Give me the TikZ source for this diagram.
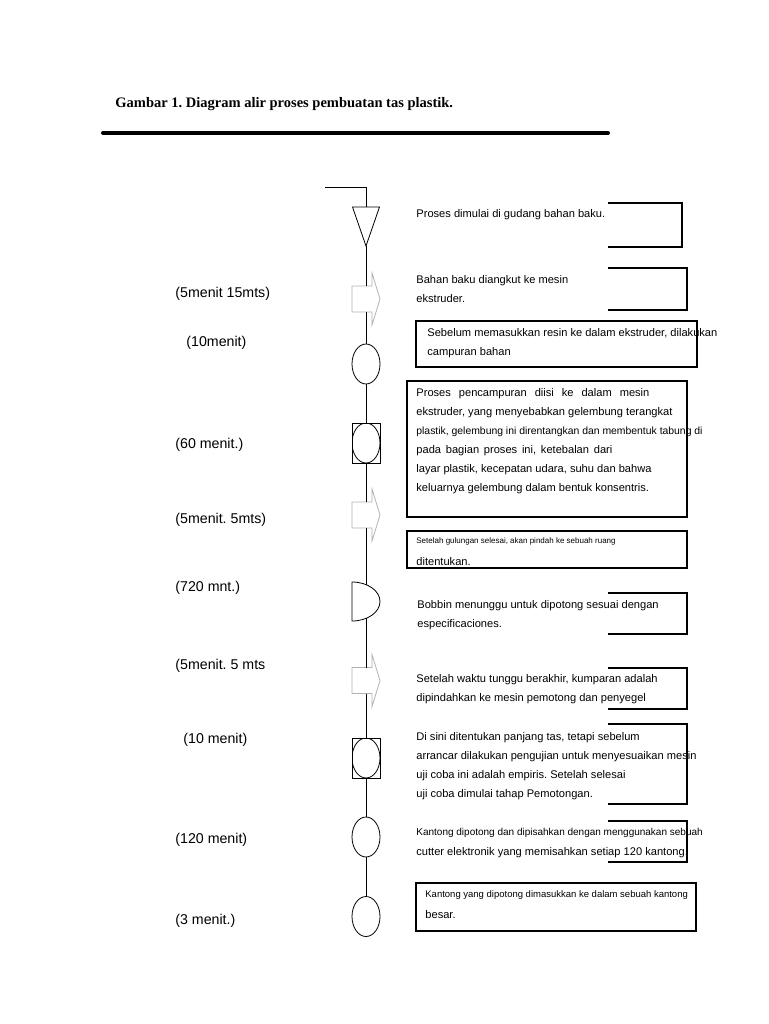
\documentclass[tikz,border=0pt]{standalone}
\usepackage{fontspec}
\setmainfont{Liberation Serif}
\setsansfont{Liberation Sans}
\usetikzlibrary{shapes.geometric}
\frenchspacing
\begin{document}
\begin{tikzpicture}[x=1pt, y=-1pt, line width=0.8pt,
		flow/.pic = {
				\filldraw[fill=white, draw=gray!60] (-14,-13) -- (6,-13) -- (6,-26)
				-- (14,0) -- (6,26) -- (6,13) -- (-14,13) -- cycle;
				\coordinate (-in) at (0,-13);
				\coordinate (-out) at (0,13);
			},
		store/.pic = {
				\filldraw[fill=white] (-13.5,-19.5) -- (13.5,-19.5) -- (0,19.5) -- cycle;
				\coordinate (-in) at (0,-19.5);
				\coordinate (-out) at (0,19.5);
			},
		delay/.pic = {
				\filldraw[fill=white] (-14,-19.5) .. controls (1.5,-19.5) and (14,-10.8) .. (14,0)
				.. controls (14,10.8) and (1.5,19.5) .. (-14,19.5) -- cycle;
				\coordinate (-in) at (0,-16.9);
				\coordinate (-out) at (0,16.9);
			},
		oper/.style = {ellipse, draw, fill=white, inner sep=0pt,
				minimum width=28pt, minimum height=40pt},
		inspect/.style = {rectangle, draw, fill=white, inner sep=0pt,
				minimum width=28pt, minimum height=40pt,
				path picture={\draw (path picture bounding box.center)
						ellipse[x radius=14pt, y radius=20pt];}},
		time/.style = {anchor=base west, inner sep=0pt,
				font=\sffamily\fontsize{14.2}{17}\selectfont},
		note/.style = {anchor=base west, inner sep=0pt, align=left,
				font=\sffamily\fontsize{11.1}{19}\selectfont},
		frame/.style = {line width=1.3pt}
	]
	\useasboundingbox (0,0) rectangle (768,1024);

	\node[anchor=base west, inner sep=0pt,
		font=\bfseries\fontsize{14.5}{17}\selectfont] (title) at (115,108)
	{Gambar 1. Diagram alir proses pembuatan tas plastik.};
	\draw[line width=4pt, line cap=round] (103,133) -- (608,133);

	% symbols
	\pic (st) at (366,226.5) {store};
	\pic (f1) at (366,299) {flow};
	\node[oper] (op1) at (366,364) {};
	\node[inspect] (in1) at (366,443) {};
	\pic (f2) at (366,515) {flow};
	\pic (dl) at (366,601.5) {delay};
	\pic (f3) at (366,680.5) {flow};
	\node[inspect] (in2) at (366,758) {};
	\node[oper] (op2) at (366,837) {};
	\node[oper] (op3) at (366,916.5) {};

	\coordinate (start) at (325,187);
	\draw (start) -| (st-in);
	\draw (st-out) -- (f1-in);
	\draw (f1-out) -- (op1);
	\draw (op1) -- (in1);
	\draw (in1) -- (f2-in);
	\draw (f2-out) -- (dl-in);
	\draw (dl-out) -- (f3-in);
	\draw (f3-out) -- (in2);
	\draw (in2) -- (op2);
	\draw (op2) -- (op3);

	% times
	\node[time] (t1) at (175,297) {(5menit 15mts)};
	\node[time] (t2) at (186,346) {(10menit)};
	\node[time] (t3) at (175,448) {(60 menit.)};
	\node[time] (t4) at (175,523) {(5menit. 5mts)};
	\node[time] (t5) at (175,591) {(720 mnt.)};
	\node[time] (t6) at (175,669) {(5menit. 5 mts};
	\node[time] (t7) at (183,743) {(10 menit)};
	\node[time] (t8) at (175,843) {(120 menit)};
	\node[time] (t9) at (175,924) {(3 menit.)};

	% frames
	\draw[frame] (608,203) -| (682,247) -- (608,247);
	\draw[frame] (608,268) -| (687,310) -- (608,310);
	\draw[frame] (416,321) rectangle (697,367);
	\draw[frame] (407,381) rectangle (687,517);
	\draw[frame] (407,531) rectangle (687,568);
	\draw[frame] (608,593) -| (687,634) -- (608,634);
	\draw[frame] (608,668) -| (687,709) -- (608,709);
	\draw[frame] (608,724) -| (687,804) -- (608,804);
	\draw[frame] (608,821) -| (687,862) -- (608,862);
	\draw[frame] (416,883) rectangle (696,931);

	% notes (placed at the baseline of their last line)
	\node[note] (n1) at (416,218) {Proses dimulai di gudang bahan baku.};
	\node[note] (n2) at (416,302) {Bahan baku diangkut ke mesin\\ekstruder.};
	\node[note] (n3) at (427,355)
	{Sebelum memasukkan resin ke dalam ekstruder, dilakukan\\campuran bahan};
	\node[note] (n4) at (416,491)
	{\makebox[233pt][s]{Proses pencampuran diisi ke dalam mesin}\\
		ekstruder, yang menyebabkan gelembung terangkat\\
		{\fontsize{10.4}{19}\selectfont plastik, gelembung ini direntangkan dan membentuk tabung di}\\
		\makebox[196pt][s]{pada bagian proses ini, ketebalan dari}\\
		layar plastik, kecepatan udara, suhu dan bahwa\\
		keluarnya gelembung dalam bentuk konsentris.};
	\node[note] (n5) at (416,565)
	{{\fontsize{8}{19}\selectfont Setelah gulungan selesai, akan pindah ke sebuah ruang}\\[3pt]
		ditentukan.};
	\node[note] (n6) at (417,627)
	{Bobbin menunggu untuk dipotong sesuai dengan\\especificaciones.};
	\node[note] (n7) at (416,701)
	{Setelah waktu tunggu berakhir, kumparan adalah\\dipindahkan ke mesin pemotong dan penyegel};
	\node[note] (n8) at (416,797)
	{Di sini ditentukan panjang tas, tetapi sebelum\\
		arrancar dilakukan pengujian untuk menyesuaikan mesin\\
		uji coba ini adalah empiris. Setelah selesai\\
		uji coba dimulai tahap Pemotongan.};
	\node[note] (n9) at (416,855)
	{{\fontsize{10}{19}\selectfont Kantong dipotong dan dipisahkan dengan menggunakan sebuah}\\[1pt]
		cutter elektronik yang memisahkan setiap 120 kantong.};
	\node[note] (n10) at (425,918)
	{{\fontsize{9.5}{19}\selectfont Kantong yang dipotong dimasukkan ke dalam sebuah kantong}\\[2pt]
		besar.};
\end{tikzpicture}
\end{document}
